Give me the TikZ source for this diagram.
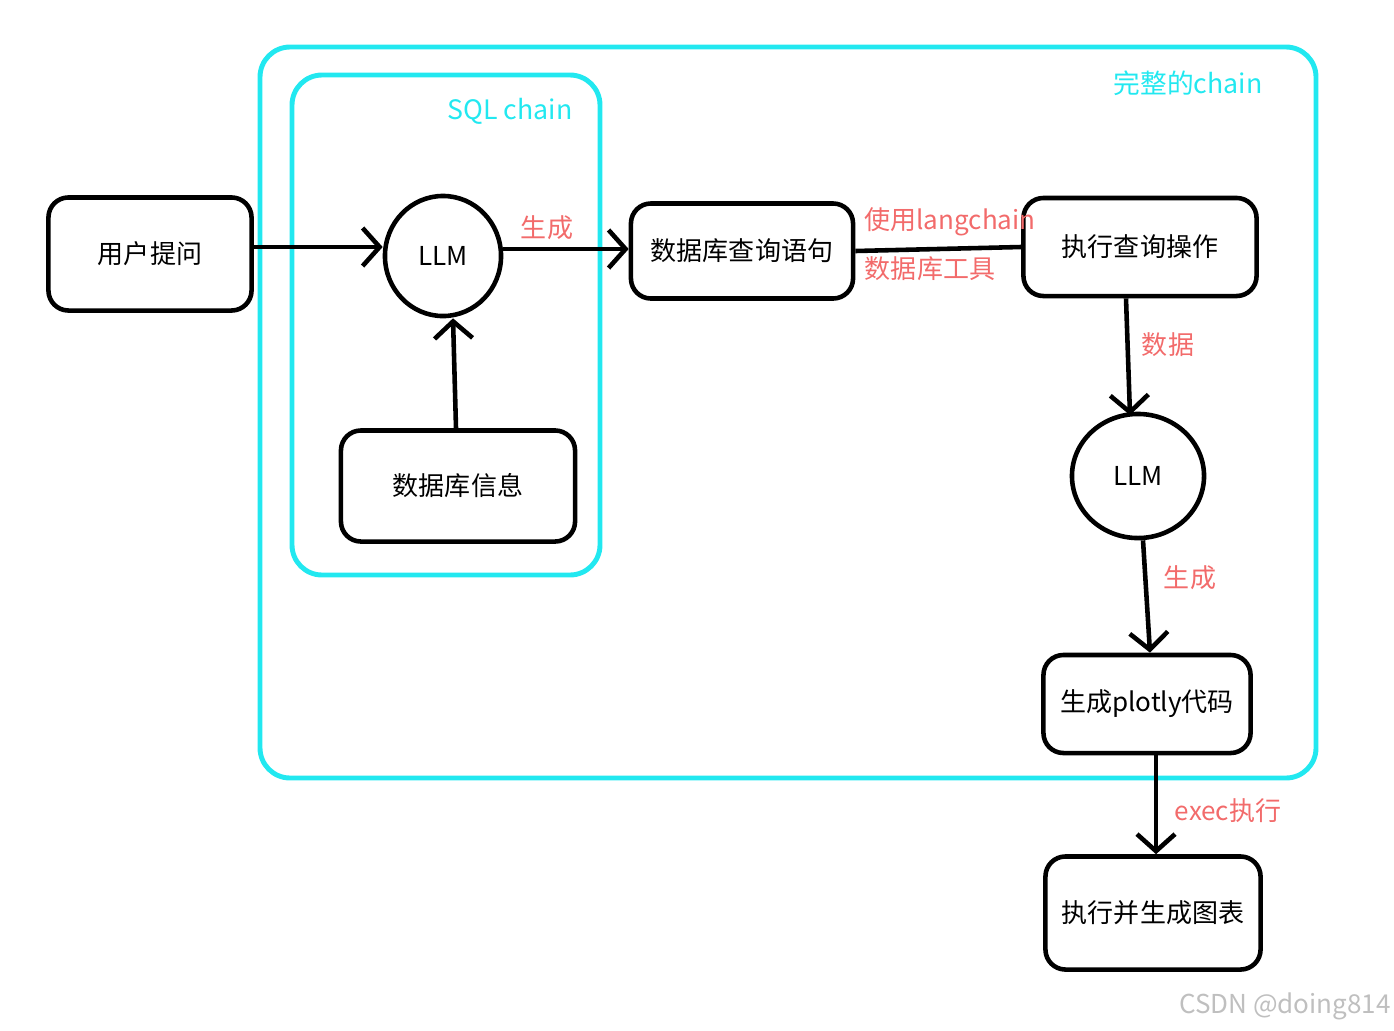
\documentclass[tikz,border=0pt]{standalone}
\usepackage{fontspec}
\setmainfont{Noto Sans CJK SC}
\usetikzlibrary{arrows.meta,shapes.geometric}
\definecolor{cy}{HTML}{22E8F0}
\definecolor{lr}{HTML}{F26B6B}
\begin{document}
\begin{tikzpicture}[x=0.01cm,y=-0.01cm,font=\fontsize{7.4pt}{9pt}\selectfont,
  box/.style={draw,line width=1.3pt,rounded corners=0.2cm,inner sep=0pt},
  circ/.style={draw,ellipse,line width=1.3pt,inner sep=0pt},
  grp/.style={draw=cy,line width=1.4pt,rounded corners=0.3cm},
  ar/.style={line width=1.3pt,-{Straight Barb[length=0.17cm,width=0.38cm]}},
  lab/.style={text=lr},
  cl/.style={text=cy,font=\fontsize{7.6pt}{9pt}\selectfont}]
\useasboundingbox (0,0) rectangle (1394,1030);
\draw[grp] (260,47) rectangle (1316,778);
\draw[grp] (292,75) rectangle (600,575);
\node[cl] (t1) at (1188,83) {完整的chain};
\node[cl] (t2) at (510,111) {SQL chain};
\node[box,minimum width=2.03cm,minimum height=1.13cm] (q) at (150,254) {用户提问};
\node[circ,minimum width=1.16cm,minimum height=1.2cm] (l1) at (443,256) {LLM};
\node[box,minimum width=2.34cm,minimum height=1.11cm] (db) at (458,486) {数据库信息};
\node[box,minimum width=2.22cm,minimum height=0.95cm] (sql) at (742,251) {数据库查询语句};
\node[box,minimum width=2.33cm,minimum height=0.98cm] (ex) at (1140,247) {执行查询操作};
\node[circ,minimum width=1.32cm,minimum height=1.24cm] (l2) at (1138,476) {LLM};
\node[box,minimum width=2.07cm,minimum height=0.98cm] (pl) at (1147,704) {生成plotly代码};
\node[box,minimum width=2.15cm,minimum height=1.13cm] (ch) at (1153,913) {执行并生成图表};
\draw[ar] (q.east |- 0,247) -- (l1.west |- 0,247);
\draw[ar] (db.north -| 456,0) -- (l1.south -| 453,0);
\draw[ar] (l1.east |- 0,249) -- (sql.west |- 0,249);
\draw[line width=1.3pt] (sql.east) -- (ex.west);
\draw[ar] (ex.south -| 1126,0) -- ([yshift=-1pt]l2.north -| 1130,0);
\draw[ar] (l2.south -| 1143,0) -- (pl.north -| 1150,0);
\draw[ar] (pl.south -| 1156,0) -- (ch.north -| 1156,0);
\node[lab] (a1) at (547,228) {生成};
\node[lab] (a2) at (950,222) {使用langchain};
\node[lab] (a3) at (930,269) {数据库工具};
\node[lab] (a4) at (1168,345) {数据};
\node[lab] (a5) at (1190,578) {生成};
\node[lab] (a6) at (1228,811) {exec执行};
\node[text=gray!50] (w) at (1285,1006) {CSDN @doing814};
\end{tikzpicture}
\end{document}
